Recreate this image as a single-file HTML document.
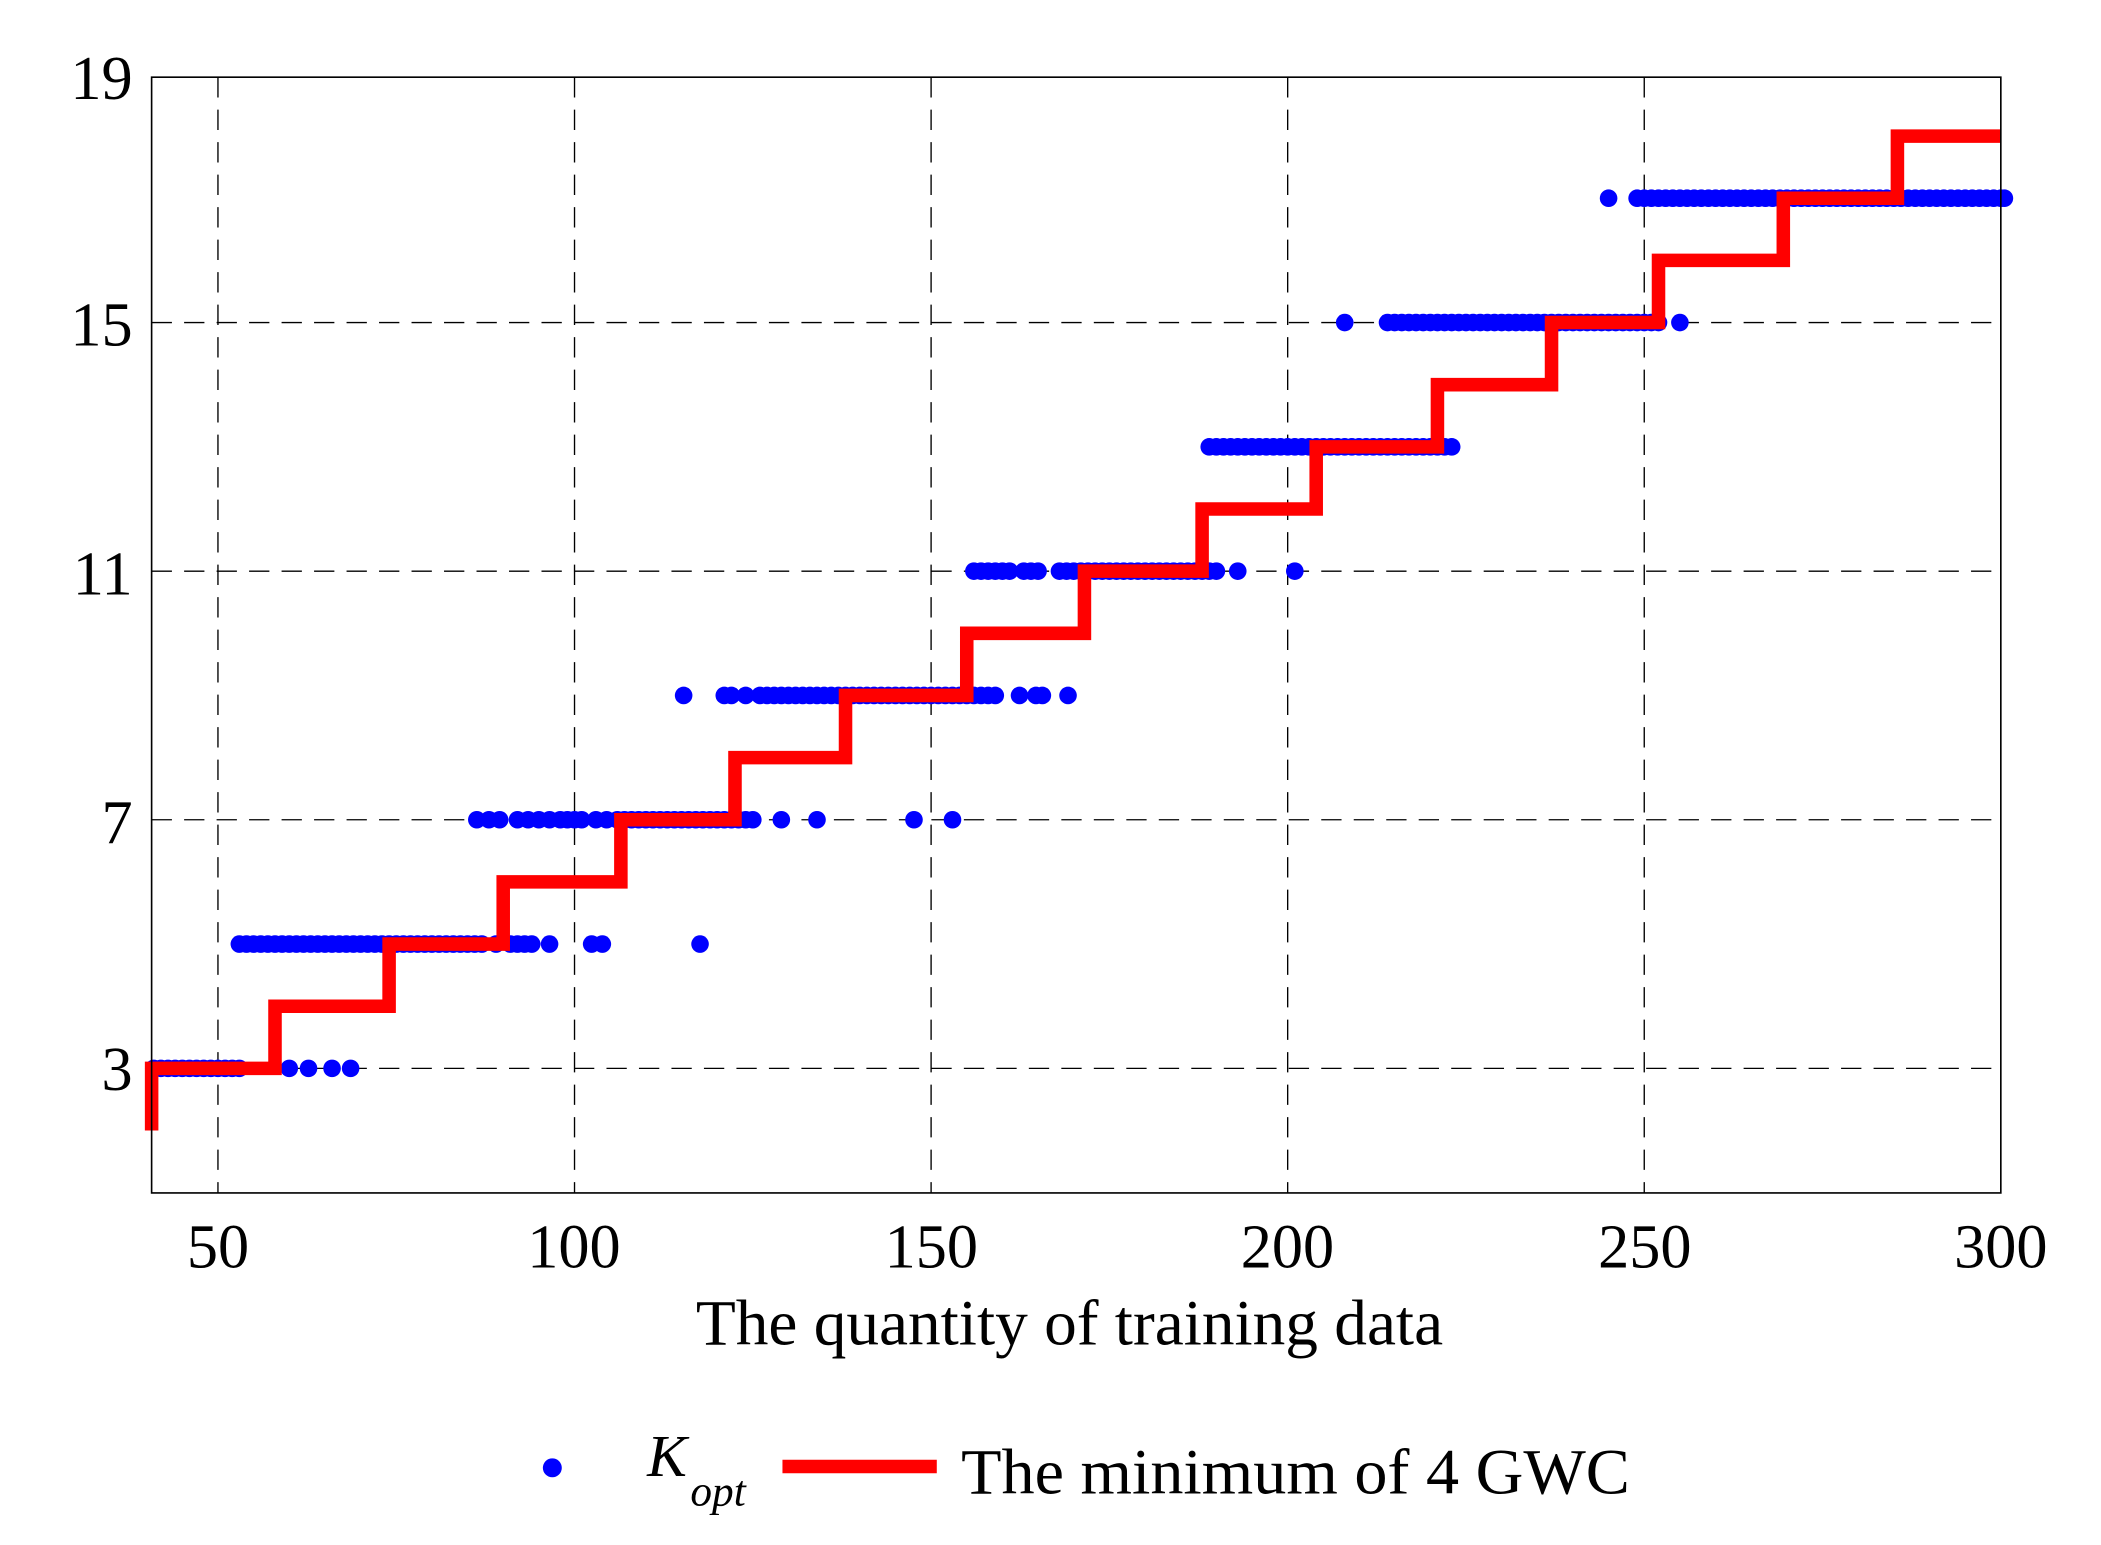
<!DOCTYPE html>
<html><head><meta charset="utf-8"><style>html,body{margin:0;padding:0;background:#fff;overflow:hidden}svg{display:block}</style></head>
<body>
<svg id="s" width="2101" height="1545" viewBox="0 0 1552 1141" preserveAspectRatio="none" xmlns="http://www.w3.org/2000/svg" font-family="'Liberation Serif',serif">
<g id="grid" stroke="#000" stroke-width="1" stroke-dasharray="15,9" fill="none"></g>
<g id="dots" fill="#0000ff"></g>
<path id="red" fill="none" stroke="#ff0000" stroke-width="10" stroke-linejoin="miter"/>
<rect x="112" y="57" width="1366" height="824" fill="none" stroke="#000" stroke-width="1.2"/>
<g font-size="46" text-anchor="end" fill="#000">
<text x="98" y="73">19</text><text x="98" y="255">15</text><text x="98" y="439">11</text><text x="98" y="623">7</text><text x="98" y="805">3</text>
</g>
<g font-size="46" text-anchor="middle" fill="#000">
<text x="161" y="936">50</text><text x="424" y="936">100</text><text x="688" y="936">150</text><text x="951" y="936">200</text><text x="1215" y="936">250</text><text x="1478" y="936">300</text>
</g>
<text x="790" y="993" font-size="48" text-anchor="middle" textLength="552" lengthAdjust="spacingAndGlyphs">The quantity of training data</text>
<circle cx="408" cy="1084" r="7" fill="#0000ff"/>
<text x="478" y="1090" font-size="44" font-style="italic">K</text>
<text x="510" y="1112" font-size="32" font-style="italic">opt</text>
<line x1="578" y1="1083" x2="692" y2="1083" stroke="#ff0000" stroke-width="10"/>
<text x="710" y="1103" font-size="48" textLength="494" lengthAdjust="spacingAndGlyphs">The minimum of 4 GWC</text>
</svg>
<script>
var NS="http://www.w3.org/2000/svg";
function X(v){return 161+(v-50)*5.268;}
function Y(v){return 789-(v-3)*45.9;}
var g=document.getElementById('grid');
[50,100,150,200,250].forEach(function(v){var l=document.createElementNS(NS,'line');l.setAttribute('x1',X(v));l.setAttribute('x2',X(v));l.setAttribute('y1',57);l.setAttribute('y2',881);g.appendChild(l);});
[3,7,11,15].forEach(function(v){var l=document.createElementNS(NS,'line');l.setAttribute('y1',Y(v));l.setAttribute('y2',Y(v));l.setAttribute('x1',112);l.setAttribute('x2',1478);g.appendChild(l);});
var steps=[[41,3],[58,4],[74,5],[90,6],[106.5,7],[122.5,8],[138,9],[155,10],[171.5,11],[188,12],[204,13],[221,14],[237,15],[252,16],[269.5,17],[285.5,18]];
var d="M"+X(40.7)+","+Y(2)+" L"+X(40.7)+","+Y(3);
for(var i=0;i<steps.length;i++){var x0=steps[i][0],y=steps[i][1];var x1=i+1<steps.length?steps[i+1][0]:300;
 if(i>0)d+=" L"+X(x0)+","+Y(y);
 d+=" L"+X(x1)+","+Y(y);}
document.getElementById('red').setAttribute('d',d);
var dots=document.getElementById('dots');
function dot(x,y){var c=document.createElementNS(NS,'circle');c.setAttribute('cx',X(x));c.setAttribute('cy',Y(y));c.setAttribute('r',6.5);dots.appendChild(c);}
function range(a,b,y,skip){for(var x=a;x<=b;x+=1){if(skip&&skip.indexOf(x)>=0)continue;dot(x,y);}}
range(41,53,3);[60,62.7,66,68.6].forEach(function(x){dot(x,3)});
range(53,86,5);[87,89,91,92,93,94,96.5,102.4,103.9,117.6].forEach(function(x){dot(x,5)});
[86.3,88,89.5,92,93.5,95,96.5,98,99,100,101,103,104.5,106].forEach(function(x){dot(x,7)});range(107,125,7,[]);
[129,134,147.6,153].forEach(function(x){dot(x,7)});
dot(115.3,9);range(121,159,9,[123,125]);[162.4,164.7,165.6,169.2].forEach(function(x){dot(x,9)});
range(156,189,11,[162,166,167]);[190,193,201].forEach(function(x){dot(x,11)});
range(189,223,13,[]);
dot(208,15);range(214,252,15,[]);dot(255,15);
dot(245,17);range(249,300.5,17,[]);dot(300.5,17);
</script>
</body></html>
